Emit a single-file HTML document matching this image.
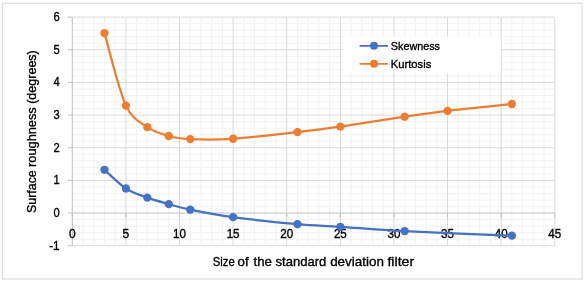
<!DOCTYPE html>
<html><head><meta charset="utf-8"><title>Surface roughness chart</title>
<style>
html,body{margin:0;padding:0;background:#fff;}
svg{display:block;}
text{font-family:"Liberation Sans",Arial,sans-serif;fill:#000;stroke:#000;stroke-width:0.35px;}
.tick text{font-size:12.3px;}
.tick .xt{font-size:12px;}
.leg{font-size:11.8px;}
.title text{font-size:13.6px;}
</style></head>
<body>
<svg width="585" height="283" viewBox="0 0 585 283">
<rect x="2.3" y="3.2" width="579.7" height="275.8" fill="#fff" stroke="#D9D9D9" stroke-width="1.1"/>
<path d="M83.01,17.10V245.72M93.73,17.10V245.72M104.46,17.10V245.72M115.18,17.10V245.72M136.62,17.10V245.72M147.34,17.10V245.72M158.07,17.10V245.72M168.79,17.10V245.72M190.23,17.10V245.72M200.95,17.10V245.72M211.68,17.10V245.72M222.40,17.10V245.72M243.84,17.10V245.72M254.56,17.10V245.72M265.29,17.10V245.72M276.01,17.10V245.72M297.45,17.10V245.72M308.17,17.10V245.72M318.90,17.10V245.72M329.62,17.10V245.72M351.06,17.10V245.72M361.78,17.10V245.72M372.51,17.10V245.72M383.23,17.10V245.72M404.67,17.10V245.72M415.39,17.10V245.72M426.12,17.10V245.72M436.84,17.10V245.72M458.28,17.10V245.72M469.00,17.10V245.72M479.73,17.10V245.72M490.45,17.10V245.72M511.89,17.10V245.72M522.61,17.10V245.72M533.34,17.10V245.72M544.06,17.10V245.72M72.29,23.63H554.78M72.29,30.16H554.78M72.29,36.70H554.78M72.29,43.23H554.78M72.29,56.29H554.78M72.29,62.82H554.78M72.29,69.36H554.78M72.29,75.89H554.78M72.29,88.95H554.78M72.29,95.48H554.78M72.29,102.02H554.78M72.29,108.55H554.78M72.29,121.61H554.78M72.29,128.14H554.78M72.29,134.68H554.78M72.29,141.21H554.78M72.29,154.27H554.78M72.29,160.80H554.78M72.29,167.34H554.78M72.29,173.87H554.78M72.29,186.93H554.78M72.29,193.46H554.78M72.29,200.00H554.78M72.29,206.53H554.78M72.29,219.59H554.78M72.29,226.12H554.78M72.29,232.66H554.78M72.29,239.19H554.78" stroke="#F2F2F2" stroke-width="1" fill="none"/>
<path d="M125.90,17.10V245.72M179.51,17.10V245.72M233.12,17.10V245.72M286.73,17.10V245.72M340.34,17.10V245.72M393.95,17.10V245.72M447.56,17.10V245.72M501.17,17.10V245.72M554.78,17.10V245.72M72.29,245.72H554.78M72.29,180.40H554.78M72.29,147.74H554.78M72.29,115.08H554.78M72.29,82.42H554.78M72.29,49.76H554.78M72.29,17.10H554.78" stroke="#D9D9D9" stroke-width="1" fill="none"/>
<path d="M72.29,17.10V245.72M72.29,213.06H554.78M67.79,245.72H72.29M67.79,213.06H72.29M67.79,180.40H72.29M67.79,147.74H72.29M67.79,115.08H72.29M67.79,82.42H72.29M67.79,49.76H72.29M67.79,17.10H72.29M72.29,213.06V217.56M125.90,213.06V217.56M179.51,213.06V217.56M233.12,213.06V217.56M286.73,213.06V217.56M340.34,213.06V217.56M393.95,213.06V217.56M447.56,213.06V217.56M501.17,213.06V217.56M554.78,213.06V217.56" stroke="#BFBFBF" stroke-width="1" fill="none"/>
<g class="tick"><text x="59.6" y="249.52" text-anchor="end" textLength="10.4" lengthAdjust="spacingAndGlyphs">-1</text><text x="59.6" y="216.86" text-anchor="end" textLength="6.2" lengthAdjust="spacingAndGlyphs">0</text><text x="59.6" y="184.20" text-anchor="end" textLength="6.2" lengthAdjust="spacingAndGlyphs">1</text><text x="59.6" y="151.54" text-anchor="end" textLength="6.2" lengthAdjust="spacingAndGlyphs">2</text><text x="59.6" y="118.88" text-anchor="end" textLength="6.2" lengthAdjust="spacingAndGlyphs">3</text><text x="59.6" y="86.22" text-anchor="end" textLength="6.2" lengthAdjust="spacingAndGlyphs">4</text><text x="59.6" y="53.56" text-anchor="end" textLength="6.2" lengthAdjust="spacingAndGlyphs">5</text><text x="59.6" y="20.90" text-anchor="end" textLength="6.2" lengthAdjust="spacingAndGlyphs">6</text><text class="xt" x="72.29" y="238.46" text-anchor="middle">0</text><text class="xt" x="125.90" y="238.46" text-anchor="middle">5</text><text class="xt" x="179.51" y="238.46" text-anchor="middle" textLength="12.9" lengthAdjust="spacingAndGlyphs">10</text><text class="xt" x="233.12" y="238.46" text-anchor="middle" textLength="12.9" lengthAdjust="spacingAndGlyphs">15</text><text class="xt" x="286.73" y="238.46" text-anchor="middle" textLength="12.9" lengthAdjust="spacingAndGlyphs">20</text><text class="xt" x="340.34" y="238.46" text-anchor="middle" textLength="12.9" lengthAdjust="spacingAndGlyphs">25</text><text class="xt" x="393.95" y="238.46" text-anchor="middle" textLength="12.9" lengthAdjust="spacingAndGlyphs">30</text><text class="xt" x="447.56" y="238.46" text-anchor="middle" textLength="12.9" lengthAdjust="spacingAndGlyphs">35</text><text class="xt" x="501.17" y="238.46" text-anchor="middle" textLength="12.9" lengthAdjust="spacingAndGlyphs">40</text><text class="xt" x="554.78" y="238.46" text-anchor="middle" textLength="12.9" lengthAdjust="spacingAndGlyphs">45</text></g>
<rect x="343" y="36.5" width="158" height="36.8" fill="#fff"/>
<path d="M360.2,45.8H387.4" stroke="#4472C4" stroke-width="1.7" stroke-linecap="round"/>
<circle cx="374" cy="45.8" r="4" fill="#4472C4"/>
<text class="leg" x="390.8" y="49.70" textLength="49.2" lengthAdjust="spacingAndGlyphs">Skewness</text>
<path d="M360.2,63.8H387.4" stroke="#ED7D31" stroke-width="1.7" stroke-linecap="round"/>
<circle cx="374" cy="63.8" r="4" fill="#ED7D31"/>
<text class="leg" x="390.8" y="67.70" textLength="40.5" lengthAdjust="spacingAndGlyphs">Kurtosis</text>
<path d="M104.46,169.79 C108.03,172.90 118.75,183.82 125.90,188.47 C133.05,193.12 140.20,195.07 147.34,197.68 C154.49,200.28 161.64,202.12 168.79,204.11 C175.94,206.10 179.51,207.45 190.23,209.63 C200.95,211.81 215.25,214.76 233.12,217.18 C250.99,219.59 279.58,222.53 297.45,224.13 C315.32,225.73 322.47,225.61 340.34,226.78 C358.21,227.94 376.08,229.63 404.67,231.12 C433.26,232.61 494.02,234.93 511.89,235.69" stroke="#4472C4" stroke-width="2.25" fill="none" stroke-linecap="round" stroke-linejoin="round"/>
<circle cx="104.46" cy="169.79" r="4.15" fill="#4472C4"/><circle cx="125.90" cy="188.47" r="4.15" fill="#4472C4"/><circle cx="147.34" cy="197.68" r="4.15" fill="#4472C4"/><circle cx="168.79" cy="204.11" r="4.15" fill="#4472C4"/><circle cx="190.23" cy="209.63" r="4.15" fill="#4472C4"/><circle cx="233.12" cy="217.18" r="4.15" fill="#4472C4"/><circle cx="297.45" cy="224.13" r="4.15" fill="#4472C4"/><circle cx="340.34" cy="226.78" r="4.15" fill="#4472C4"/><circle cx="404.67" cy="231.12" r="4.15" fill="#4472C4"/><circle cx="511.89" cy="235.69" r="4.15" fill="#4472C4"/>
<path d="M104.46,33.10 C108.03,45.19 118.75,89.93 125.90,105.61 C132.21,119.44 140.20,122.10 147.34,127.16 C154.49,132.23 161.64,134.00 168.79,135.98 C175.94,137.97 179.51,138.62 190.23,139.09 C200.95,139.55 215.25,139.93 233.12,138.76 C250.99,137.59 279.58,134.08 297.45,132.06 C315.32,130.04 322.47,129.20 340.34,126.64 C358.21,124.08 386.80,119.35 404.67,116.71 C422.54,114.08 429.69,112.96 447.56,110.83 C465.43,108.71 501.17,105.12 511.89,103.98" stroke="#ED7D31" stroke-width="2.25" fill="none" stroke-linecap="round" stroke-linejoin="round"/>
<circle cx="104.46" cy="33.10" r="4.15" fill="#ED7D31"/><circle cx="125.90" cy="105.61" r="4.15" fill="#ED7D31"/><circle cx="147.34" cy="127.16" r="4.15" fill="#ED7D31"/><circle cx="168.79" cy="135.98" r="4.15" fill="#ED7D31"/><circle cx="190.23" cy="139.09" r="4.15" fill="#ED7D31"/><circle cx="233.12" cy="138.76" r="4.15" fill="#ED7D31"/><circle cx="297.45" cy="132.06" r="4.15" fill="#ED7D31"/><circle cx="340.34" cy="126.64" r="4.15" fill="#ED7D31"/><circle cx="404.67" cy="116.71" r="4.15" fill="#ED7D31"/><circle cx="447.56" cy="110.83" r="4.15" fill="#ED7D31"/><circle cx="511.89" cy="103.98" r="4.15" fill="#ED7D31"/>
<g class="title"><text x="212.70" y="266.1" textLength="22.00" lengthAdjust="spacingAndGlyphs">Size</text><text x="237.50" y="266.1" textLength="11.10" lengthAdjust="spacingAndGlyphs">of</text><text x="253.45" y="266.1" textLength="18.50" lengthAdjust="spacingAndGlyphs">the</text><text x="275.50" y="266.1" textLength="50.80" lengthAdjust="spacingAndGlyphs">standard</text><text x="330.15" y="266.1" textLength="53.85" lengthAdjust="spacingAndGlyphs">deviation</text><text x="387.45" y="266.1" textLength="26.75" lengthAdjust="spacingAndGlyphs">filter</text></g>
<g class="title"><text transform="translate(35.6,212.20) rotate(-90)" x="-0.70" y="0" textLength="42.65" lengthAdjust="spacingAndGlyphs">Surface</text><text transform="translate(35.6,166.20) rotate(-90)" x="-0.70" y="0" textLength="59.55" lengthAdjust="spacingAndGlyphs">roughness</text><text transform="translate(35.6,103.90) rotate(-90)" x="0.05" y="0" textLength="53.65" lengthAdjust="spacingAndGlyphs">(degrees)</text></g>
</svg>
</body></html>
